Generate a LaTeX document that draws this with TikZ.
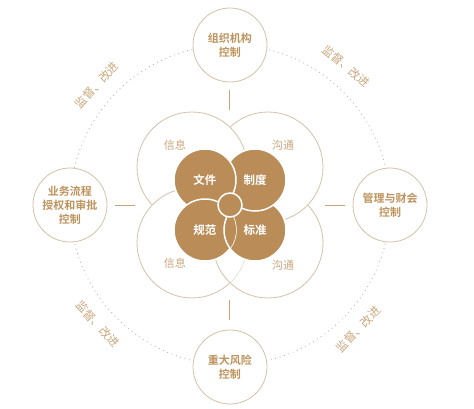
\documentclass[tikz,border=0pt]{standalone}
\usepackage{fontspec}
\setmainfont{Noto Sans CJK SC}[BoldFont={Noto Sans CJK SC Bold}]
\usepackage{tikz}

\definecolor{gold}{HTML}{B98C58}
\definecolor{tan}{HTML}{BE945E}
\definecolor{sand}{HTML}{C9A77E}
\definecolor{rim}{HTML}{D6C1A8}
\definecolor{dots}{HTML}{BCAFA2}

\begin{document}
\begin{tikzpicture}[x=1pt, y=1pt]
  \useasboundingbox (-230,-203) rectangle (244,205);

  % outer ring
  \draw[dots, line width=1.2pt, line cap=round, dash pattern=on 0pt off 4.6pt] (0,0) circle (160pt);

  \coordinate (n1) at (0,95);   \coordinate (n2) at (0,115);
  \coordinate (s1) at (0,-95);  \coordinate (s2) at (0,-115);
  \coordinate (w1) at (-95,0);  \coordinate (w2) at (-115,0);
  \coordinate (e1) at (95,0);   \coordinate (e2) at (115,0);

  \begin{scope}[draw=tan!85, line width=1pt]
    \draw (n1) -- (n2);
    \draw (s1) -- (s2);
    \draw (w1) -- (w2);
    \draw (e1) -- (e2);
  \end{scope}

  \begin{scope}[every node/.style={circle, draw=rim, line width=0.8pt, fill=white, minimum size=74pt, inner sep=0pt, align=center, text=tan, font=\fontsize{11}{14}\selectfont\bfseries}]
    \node (org) at (0,160) {组织机构\\控制};
    \node (biz) at (-160,0) {业务流程\\授权和审批\\控制};
    \node (fin) at (160,0) {管理与财会\\控制};
    \node (risk) at (0,-162) {重大风险\\控制};
  \end{scope}

  \begin{scope}[every node/.style={text=sand, font=\fontsize{11.5}{13}\selectfont}]
    \node[rotate=48] (fb1) at (138:179) {监督、改进};
    \node[rotate=-40] (fb2) at (50:181) {监督、改进};
    \node[rotate=-48] (fb3) at (222:178) {监督、改进};
    \node[rotate=46] (fb4) at (-44:179) {监督、改进};
  \end{scope}

  % petals
  \begin{scope}[every node/.style={circle, draw=rim, line width=0.8pt, fill=white, minimum size=110pt}]
    \node (comm2) at (38,-38) {};
    \node (comm1) at (38,38) {};
    \node (info1) at (-38,38) {};
    \node (info2) at (-38,-38) {};
  \end{scope}
  \begin{scope}
    \clip (info2.center) circle (55pt);
    \draw[rim, line width=0.8pt, fill=white] (comm2.center) circle (55pt);
  \end{scope}

  \begin{scope}[every node/.style={text=sand, font=\fontsize{11}{13}\selectfont}]
    \node (l1) at (-55,60) {信息};
    \node (l2) at (53,60) {沟通};
    \node (l3) at (-55,-58) {信息};
    \node (l4) at (53,-60) {沟通};
  \end{scope}

  \begin{scope}[every node/.style={circle, fill=gold, draw=white, line width=1.5pt, minimum size=62pt, inner sep=0pt, text=white, font=\fontsize{11.5}{13}\selectfont\bfseries}]
    \node (std) at (25,-25) {标准};
    \node (sys) at (25,25) {制度};
    \node (doc) at (-25,25) {文件};
    \node (spec) at (-25,-25) {规范};
  \end{scope}
  \begin{scope}
    \clip (spec.center) circle (31pt);
    \draw[white, fill=gold, line width=1.5pt] (std.center) circle (31pt);
  \end{scope}

  \node[circle, fill=gold, draw=white, line width=1.5pt, minimum size=24pt] (hub) at (0,0) {};
\end{tikzpicture}
\end{document}
